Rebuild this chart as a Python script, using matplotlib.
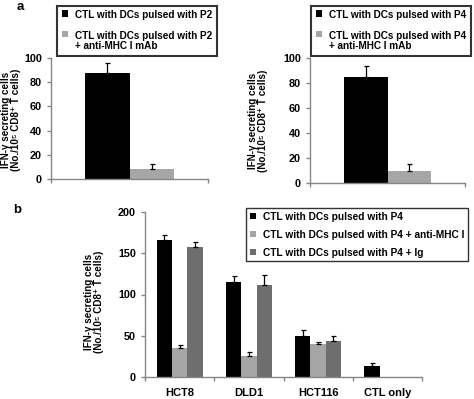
import numpy as np
import matplotlib
matplotlib.use('Agg')
import matplotlib.pyplot as plt

plt.rcParams['font.family'] = ['Liberation Sans', 'DejaVu Sans']
plt.rcParams['font.weight'] = 'bold'

# Daten Panel a
a_left_labels = ['CTL with DCs pulsed with P2', 'CTL with DCs pulsed with P2\n+ anti-MHC I mAb']
a_left_vals = [88, 8]
a_left_err = [8, 4]
a_right_labels = ['CTL with DCs pulsed with P4', 'CTL with DCs pulsed with P4\n+ anti-MHC I mAb']
a_right_vals = [85, 10]
a_right_err = [9, 5]

# Daten Panel b
cell_lines = ['HCT8', 'DLD1', 'HCT116', 'CTL only']
b_labels = ['CTL with DCs pulsed with P4',
            'CTL with DCs pulsed with P4 + anti-MHC I',
            'CTL with DCs pulsed with P4 + Ig']
b_p4 = [166, 115, 49.5, 13]
b_p4_err = [6, 7, 7.5, 4]
b_anti = [35, 26, 40, np.nan]
b_anti_err = [4, 4, 3, np.nan]
b_ig = [158, 111, 44, np.nan]
b_ig_err = [6, 13, 6, np.nan]

W, H = 474, 399
fig = plt.figure(figsize=(W / 100, H / 100), dpi=100)

AXCOL = '#868686'
ylabel = 'IFN-γ secreting cells\n(No./10⁵ CD8⁺ T cells)'


def px_axes(x0, x1, ytop, ybot):
    return fig.add_axes([x0 / W, 1 - ybot / H, (x1 - x0) / W, (ybot - ytop) / H])


def style(ax):
    for s in ['top', 'right']:
        ax.spines[s].set_visible(False)
    for s in ['left', 'bottom']:
        ax.spines[s].set_color(AXCOL)
        ax.spines[s].set_linewidth(1)
    ax.tick_params(axis='both', which='major', colors=AXCOL, length=3, width=1,
                   labelsize=7.8, labelcolor='black')
    for t in ax.get_yticklabels():
        t.set_fontweight('bold')


def top_align(leg):
    # Marker an der ersten Textzeile ausrichten
    for col in leg._legend_handle_box.get_children():
        for item in col.get_children():
            item.align = 'top'


def panel_a(ax, vals, errs, labels, leg_x0):
    cols = ['black', '#a6a6a6']
    xs = [0.5 - 0.1415, 0.5 + 0.1415]
    for x, v, e, c, l in zip(xs, vals, errs, cols, labels):
        ax.bar(x, v, width=0.283, color=c, label=l)
        ax.errorbar(x, v, yerr=[[0], [e]], fmt='none', ecolor='black',
                    elinewidth=0.9, capsize=1.8, capthick=0.9)
    ax.set_xlim(0, 1)
    ax.set_ylim(0, 100)
    ax.set_yticks([0, 20, 40, 60, 80, 100])
    ax.set_xticks([0, 1])
    ax.set_xticklabels([])
    style(ax)
    leg = ax.legend(loc='lower left', bbox_to_anchor=(leg_x0 / W, 1 - 56 / H),
                    bbox_transform=fig.transFigure, fontsize=7.2, frameon=True,
                    fancybox=False, edgecolor='black', handlelength=0.6,
                    handleheight=0.6, handletextpad=0.7, labelspacing=1.05,
                    borderpad=0.5, borderaxespad=0)
    leg.get_frame().set_linewidth(1.5)
    for t in leg.get_texts():
        t.set_fontweight('bold')
        t.set_linespacing(1.0)
    top_align(leg)


ax1 = px_axes(51, 208, 58, 179)
panel_a(ax1, a_left_vals, a_left_err, a_left_labels, 57)
fig.text(11 / W, 1 - 120 / H, ylabel, rotation=90, ha='center', va='center',
         fontsize=7.1, fontweight='bold', linespacing=1.05)
fig.text(20 / W, 1 - 7 / H, 'a', fontsize=9.5, fontweight='bold', ha='center', va='center')

ax2 = px_axes(310, 465, 58, 183)
panel_a(ax2, a_right_vals, a_right_err, a_right_labels, 311)
fig.text(258 / W, 1 - 121 / H, ylabel, rotation=90, ha='center', va='center',
         fontsize=7.1, fontweight='bold', linespacing=1.05)

# Panel b
ax3 = px_axes(145, 422, 212, 377)
x = np.arange(len(cell_lines)) + 0.5
bw = 0.222
series = [(b_p4, b_p4_err, 'black', b_labels[0]),
          (b_anti, b_anti_err, '#a5a5a5', b_labels[1]),
          (b_ig, b_ig_err, '#6e6e6e', b_labels[2])]
for i, (vals, errs, c, l) in enumerate(series):
    xi = x + (i - 1) * bw
    ax3.bar(xi, vals, width=bw, color=c, label=l)
    ax3.errorbar(xi, vals, yerr=[np.zeros(len(errs)), errs], fmt='none', ecolor='black',
                 elinewidth=0.9, capsize=1.8, capthick=0.9)
ax3.set_xlim(0, 4)
ax3.set_ylim(0, 200)
ax3.set_yticks([0, 50, 100, 150, 200])
ax3.set_xticks([0, 1, 2, 3, 4])
ax3.set_xticklabels([])
ax3.set_xticks(x, minor=True)
ax3.set_xticklabels(cell_lines, minor=True, fontsize=8, fontweight='bold')
ax3.tick_params(axis='x', which='minor', length=0, pad=8)
style(ax3)
leg = ax3.legend(loc='upper left', bbox_to_anchor=(246 / W, 1 - 208 / H),
                 bbox_transform=fig.transFigure, fontsize=7.3, frameon=True,
                 fancybox=False, edgecolor='black', handlelength=0.6,
                 handleheight=0.6, handletextpad=0.7, labelspacing=0.8,
                 borderpad=0.35, borderaxespad=0)
leg.get_frame().set_linewidth(1)
for t in leg.get_texts():
    t.set_fontweight('bold')
fig.text(94 / W, 1 - 302 / H, ylabel, rotation=90, ha='center', va='center',
         fontsize=7.1, fontweight='bold', linespacing=1.05)
fig.text(17 / W, 1 - 210 / H, 'b', fontsize=9.5, fontweight='bold', ha='center', va='center')

fig.savefig('out.png', dpi=100)
